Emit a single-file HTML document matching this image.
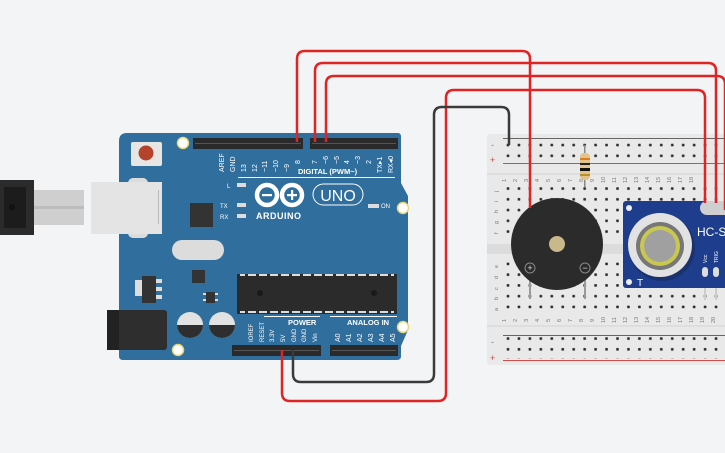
<!DOCTYPE html>
<html><head><meta charset="utf-8"><style>
html,body{margin:0;padding:0;background:#f3f4f6;}
svg{display:block;}
text{font-family:"Liberation Sans",sans-serif;}
</style></head><body>
<svg width="725" height="453" viewBox="0 0 725 453" xmlns="http://www.w3.org/2000/svg">
<rect width="725" height="453" fill="#f3f4f6"/>

<!-- USB cable -->
<rect x="0" y="180" width="34" height="55" fill="#2b2b2b"/>
<rect x="4" y="187" width="22" height="41" fill="#1c1c1c"/>
<circle cx="12" cy="207" r="3" fill="#111"/>
<rect x="34" y="190" width="50" height="35" fill="#cfcfcf"/>
<rect x="34" y="206" width="50" height="3" fill="#bdbdbd"/>

<!-- Arduino board -->
<path d="M127,133 L398,133 Q401,133 401,137 L401,183 L408,196 L408,330 L401,346 L401,356 Q401,360 397,360 L123,360 Q119,360 119,356 L119,141 Q119,133 127,133 Z" fill="#2f6e9d"/>
<!-- USB jack -->
<rect x="128" y="178" width="20" height="10" rx="5" fill="#dcdcdc"/>
<rect x="128" y="228" width="20" height="10" rx="5" fill="#dcdcdc"/>
<rect x="91" y="182" width="71" height="52" fill="#e4e4e4"/>
<rect x="158" y="190" width="1" height="34" fill="#bbb"/>
<!-- reset -->
<rect x="131" y="142" width="31" height="24" rx="2" fill="#e8e6e2"/>
<circle cx="146" cy="153" r="7.5" fill="#b5432c"/>
<!-- mounting holes -->
<g fill="#fff" stroke="#e8d67a" stroke-width="1.5">
<circle cx="183" cy="143" r="5.5"/><circle cx="403" cy="208" r="5.5"/><circle cx="403" cy="327" r="5.5"/><circle cx="178" cy="350" r="5.5"/>
</g>
<!-- headers -->
<g fill="#2a2a2a">
<rect x="193" y="138" width="110" height="11"/><rect x="310" y="138" width="88" height="11"/>
<rect x="232" y="345" width="89" height="11"/><rect x="330" y="345" width="68" height="11"/>
</g>
<g fill="#555">
<rect x="195" y="143" width="106" height="1"/><rect x="312" y="143" width="84" height="1"/>
<rect x="234" y="350" width="85" height="1"/><rect x="332" y="350" width="64" height="1"/>
</g>
<!-- pin labels top -->
<g fill="#fff" font-size="7" text-anchor="start">
<text transform="translate(224,172) rotate(-90)">AREF</text>
<text transform="translate(235,172) rotate(-90)">GND</text>
<text transform="translate(246,172) rotate(-90)">13</text>
<text transform="translate(257,172) rotate(-90)">12</text>
<text transform="translate(267,172) rotate(-90)">~11</text>
<text transform="translate(278,172) rotate(-90)">~10</text>
<text transform="translate(289,172) rotate(-90)">~9</text>
<text transform="translate(300,164) rotate(-90)">8</text>
<text transform="translate(317,164) rotate(-90)">7</text>
<text transform="translate(328,164) rotate(-90)">~6</text>
<text transform="translate(339,164) rotate(-90)">~5</text>
<text transform="translate(349,164) rotate(-90)">4</text>
<text transform="translate(360,164) rotate(-90)">~3</text>
<text transform="translate(371,164) rotate(-90)">2</text>
<text transform="translate(382,173) rotate(-90)">TX▸1</text>
<text transform="translate(393,173) rotate(-90)">RX◂0</text>
</g>
<text x="298" y="174" fill="#fff" font-size="7.5" font-weight="bold">DIGITAL (PWM~)</text>
<rect x="238" y="177" width="157" height="1" fill="#fff"/>
<!-- LEDs -->
<g fill="#ddd"><rect x="237" y="183" width="9" height="4"/><rect x="237" y="203" width="9" height="4"/><rect x="237" y="214" width="9" height="4"/><rect x="368" y="204" width="11" height="4"/></g>
<g fill="#fff" font-size="6"><text x="227" y="188">L</text><text x="220" y="208">TX</text><text x="220" y="219">RX</text><text x="381" y="208">ON</text></g>
<!-- logo -->
<g fill="none" stroke="#fff" stroke-width="4.5"><circle cx="267" cy="195" r="10"/><circle cx="292" cy="195" r="10"/></g>
<rect x="262" y="194" width="10" height="2.2" fill="#fff"/>
<rect x="287" y="194" width="10" height="2.2" fill="#fff"/><rect x="291" y="190" width="2.2" height="10" fill="#fff"/>
<text x="256" y="219" fill="#fff" font-size="9" font-weight="bold" letter-spacing="0.5">ARDUINO</text>
<rect x="313" y="184" width="50" height="21" rx="10.5" fill="none" stroke="#fff" stroke-width="1"/>
<text x="338" y="201" fill="#fff" font-size="16" text-anchor="middle">UNO</text>
<!-- ICs -->
<rect x="190" y="203" width="23" height="24" fill="#333"/>
<rect x="172" y="240" width="52" height="20" rx="10" fill="#dcdcdc"/>
<rect x="192" y="270" width="13" height="13" fill="#333"/>
<rect x="135" y="280" width="8" height="16" fill="#ddd"/>
<rect x="142" y="276" width="14" height="27" fill="#333"/>
<g fill="#ddd"><rect x="156" y="279" width="6" height="4"/><rect x="156" y="287" width="6" height="4"/><rect x="156" y="295" width="6" height="4"/></g>
<rect x="206" y="292" width="9" height="11" fill="#333"/>
<g fill="#ddd"><rect x="203" y="293" width="3" height="2"/><rect x="203" y="299" width="3" height="2"/><rect x="215" y="293" width="3" height="2"/><rect x="215" y="299" width="3" height="2"/></g>
<rect x="237" y="274" width="160" height="40" fill="#2b2b2b"/>
<g fill="#ddd">
<rect x="240" y="274" width="154" height="2"/><rect x="240" y="311" width="154" height="2"/>
</g>
<g fill="#2b2b2b">
<rect x="245" y="274" width="3" height="2"/><rect x="256" y="274" width="3" height="2"/><rect x="267" y="274" width="3" height="2"/><rect x="278" y="274" width="3" height="2"/><rect x="289" y="274" width="3" height="2"/><rect x="300" y="274" width="3" height="2"/><rect x="311" y="274" width="3" height="2"/><rect x="322" y="274" width="3" height="2"/><rect x="333" y="274" width="3" height="2"/><rect x="344" y="274" width="3" height="2"/><rect x="355" y="274" width="3" height="2"/><rect x="366" y="274" width="3" height="2"/><rect x="377" y="274" width="3" height="2"/><rect x="388" y="274" width="3" height="2"/>
<rect x="245" y="311" width="3" height="2"/><rect x="256" y="311" width="3" height="2"/><rect x="267" y="311" width="3" height="2"/><rect x="278" y="311" width="3" height="2"/><rect x="289" y="311" width="3" height="2"/><rect x="300" y="311" width="3" height="2"/><rect x="311" y="311" width="3" height="2"/><rect x="322" y="311" width="3" height="2"/><rect x="333" y="311" width="3" height="2"/><rect x="344" y="311" width="3" height="2"/><rect x="355" y="311" width="3" height="2"/><rect x="366" y="311" width="3" height="2"/><rect x="377" y="311" width="3" height="2"/><rect x="388" y="311" width="3" height="2"/>
</g>
<circle cx="260" cy="293" r="3" fill="#1a1a1a"/><circle cx="374" cy="293" r="3" fill="#1a1a1a"/>
<!-- power jack -->
<rect x="107" y="310" width="60" height="40" rx="3" fill="#2e2e2e"/>
<rect x="107" y="310" width="12" height="40" fill="#222"/>
<!-- capacitors -->
<g><circle cx="190" cy="325" r="13" fill="#e2e2e2"/><path d="M177,325 A13,13 0 0,0 203,325 Z" fill="#2e2e2e"/>
<circle cx="222" cy="325" r="13" fill="#e2e2e2"/><path d="M209,325 A13,13 0 0,0 235,325 Z" fill="#2e2e2e"/></g>
<!-- bottom labels -->
<text x="288" y="325" fill="#fff" font-size="7.5" font-weight="bold">POWER</text>
<text x="347" y="325" fill="#fff" font-size="7.5" font-weight="bold">ANALOG IN</text>
<rect x="264" y="316" width="56" height="1" fill="#fff"/><rect x="330" y="316" width="67" height="1" fill="#fff"/>
<g fill="#fff" font-size="6">
<text transform="translate(253,342) rotate(-90)">IOREF</text>
<text transform="translate(264,342) rotate(-90)">RESET</text>
<text transform="translate(274,342) rotate(-90)">3.3V</text>
<text transform="translate(285,342) rotate(-90)">5V</text>
<text transform="translate(296,342) rotate(-90)">GND</text>
<text transform="translate(306,342) rotate(-90)">GND</text>
<text transform="translate(317,342) rotate(-90)">Vin</text>
<text transform="translate(340,342) rotate(-90)" font-size="7">A0</text>
<text transform="translate(351,342) rotate(-90)" font-size="7">A1</text>
<text transform="translate(362,342) rotate(-90)" font-size="7">A2</text>
<text transform="translate(373,342) rotate(-90)" font-size="7">A3</text>
<text transform="translate(384,342) rotate(-90)" font-size="7">A4</text>
<text transform="translate(395,342) rotate(-90)" font-size="7">A5</text>
</g>

<!-- Breadboard -->
<rect x="487" y="134" width="245" height="231" rx="3" fill="#e9e9e9"/>
<rect x="487" y="244" width="245" height="10" fill="#dcdcdc"/>
<rect x="487" y="173" width="245" height="2" fill="#dedede"/>
<rect x="487" y="325" width="245" height="2" fill="#dedede"/>
<rect x="503" y="138" width="222" height="1" fill="#666"/>
<rect x="503" y="163" width="222" height="1" fill="#d24a4a"/>
<rect x="503" y="335" width="222" height="1" fill="#666"/>
<rect x="503" y="360" width="222" height="1" fill="#d24a4a"/>
<g font-size="9" fill="#777"><text x="491" y="148">-</text><text x="491" y="345">-</text></g>
<g font-size="9" fill="#d24a4a"><text x="490" y="163">+</text><text x="490" y="361">+</text></g>
<defs>
<pattern id="holes" x="502.5" y="0" width="10.95" height="10.75" patternUnits="userSpaceOnUse">
<rect x="4.2" y="4.0" width="2.6" height="2.6" rx="0.6" fill="#2a2a2a"/>
</pattern>
</defs>
<rect x="503" y="140" width="222" height="22" fill="url(#holes)"/>
<rect x="503" y="337" width="222" height="22" fill="url(#holes)"/>
<g>
<rect x="503" y="184" width="222" height="54" fill="url(#holes)" transform="translate(0,0.5)"/>
<rect x="503" y="260" width="222" height="54" fill="url(#holes)" transform="translate(0,0.6)"/>
</g>
<g font-size="5.5" fill="#777">
<text transform="translate(506,182) rotate(-90)">1</text><text transform="translate(517,182) rotate(-90)">2</text><text transform="translate(528,182) rotate(-90)">3</text><text transform="translate(539,182) rotate(-90)">4</text><text transform="translate(550,182) rotate(-90)">5</text><text transform="translate(561,182) rotate(-90)">6</text><text transform="translate(572,182) rotate(-90)">7</text><text transform="translate(583,182) rotate(-90)">8</text><text transform="translate(594,182) rotate(-90)">9</text><text transform="translate(605,183) rotate(-90)">10</text><text transform="translate(616,183) rotate(-90)">11</text><text transform="translate(627,183) rotate(-90)">12</text><text transform="translate(638,183) rotate(-90)">13</text><text transform="translate(649,183) rotate(-90)">14</text><text transform="translate(660,183) rotate(-90)">15</text><text transform="translate(671,183) rotate(-90)">16</text><text transform="translate(682,183) rotate(-90)">17</text><text transform="translate(693,183) rotate(-90)">18</text>
<text transform="translate(506,322) rotate(-90)">1</text><text transform="translate(517,322) rotate(-90)">2</text><text transform="translate(528,322) rotate(-90)">3</text><text transform="translate(539,322) rotate(-90)">4</text><text transform="translate(550,322) rotate(-90)">5</text><text transform="translate(561,322) rotate(-90)">6</text><text transform="translate(572,322) rotate(-90)">7</text><text transform="translate(583,322) rotate(-90)">8</text><text transform="translate(594,322) rotate(-90)">9</text><text transform="translate(605,323) rotate(-90)">10</text><text transform="translate(616,323) rotate(-90)">11</text><text transform="translate(627,323) rotate(-90)">12</text><text transform="translate(638,323) rotate(-90)">13</text><text transform="translate(649,323) rotate(-90)">14</text><text transform="translate(660,323) rotate(-90)">15</text><text transform="translate(671,323) rotate(-90)">16</text><text transform="translate(682,323) rotate(-90)">17</text><text transform="translate(693,323) rotate(-90)">18</text><text transform="translate(704,323) rotate(-90)">19</text><text transform="translate(715,323) rotate(-90)">20</text>
<text transform="translate(498,192) rotate(-90)">j</text><text transform="translate(498,202) rotate(-90)">i</text><text transform="translate(498,213) rotate(-90)">h</text><text transform="translate(498,224) rotate(-90)">g</text><text transform="translate(498,234) rotate(-90)">f</text>
<text transform="translate(498,268) rotate(-90)">e</text><text transform="translate(498,279) rotate(-90)">d</text><text transform="translate(498,290) rotate(-90)">c</text><text transform="translate(498,300) rotate(-90)">b</text><text transform="translate(498,311) rotate(-90)">a</text>
</g>
<!-- resistor -->
<rect x="584" y="145" width="1.5" height="42" fill="#888"/>
<rect x="580" y="153" width="10" height="27" rx="4" fill="#e2c48a"/>
<rect x="580" y="158" width="10" height="2" fill="#e07b20"/>
<rect x="580" y="163" width="10" height="2" fill="#222"/>
<rect x="580" y="168" width="10" height="3" fill="#111"/>
<rect x="580" y="174" width="10" height="2" fill="#b8902a"/>
<!-- buzzer -->
<rect x="529" y="270" width="2" height="29" fill="#999"/>
<rect x="584" y="270" width="2" height="29" fill="#999"/>
<circle cx="557" cy="244" r="46" fill="#2b2b2b"/>
<circle cx="557" cy="244" r="8" fill="#c8b88a"/>
<circle cx="530" cy="268" r="5" fill="none" stroke="#888" stroke-width="1"/>
<text x="530" y="271" fill="#ddd" font-size="9" text-anchor="middle">+</text>
<circle cx="585" cy="268" r="5" fill="none" stroke="#888" stroke-width="1"/>
<text x="585" y="271" fill="#ddd" font-size="9" text-anchor="middle">−</text>
<!-- HC-SR04 -->
<rect x="704" y="285" width="2" height="15" fill="#ccc"/><rect x="715" y="285" width="2" height="15" fill="#ccc"/>
<rect x="623" y="201" width="110" height="87" rx="3" fill="#1e3d8c"/>
<circle cx="629" cy="208" r="3" fill="#eee"/><circle cx="629" cy="282" r="3" fill="#eee"/>
<rect x="700" y="201" width="40" height="14" rx="7" fill="#cfcfcf"/>
<circle cx="662" cy="248" r="33" fill="#1a2c5c" opacity="0.6"/>
<circle cx="660" cy="245" r="32" fill="#e2e2e2"/>
<circle cx="660" cy="246" r="24" fill="#777"/>
<circle cx="660" cy="246" r="20" fill="#c8c84e"/>
<circle cx="660" cy="246" r="16" fill="#a0a0a0"/>
<text x="637" y="286" fill="#fff" font-size="10">T</text>
<text x="697" y="236" fill="#fff" font-size="12" font-family="Liberation Mono, monospace">HC-S</text>
<g fill="#fff" font-size="5"><text transform="translate(707,263) rotate(-90)">Vcc</text><text transform="translate(718,263) rotate(-90)">TRIG</text></g>
<rect x="702" y="267" width="6" height="10" rx="3" fill="#ddd"/><rect x="713" y="267" width="6" height="10" rx="3" fill="#ddd"/>

<!-- Wires -->
<g fill="none" stroke-width="2.5" stroke-linejoin="round">
<path d="M297,142 L297,59 Q297,51 305,51 L522,51 Q530,51 530,59 L530,208" stroke="#e02424"/>
<path d="M315,142 L315,71 Q315,63 323,63 L708,63 Q716,63 716,71 L716,203" stroke="#e02424"/>
<path d="M326,142 L326,84 Q326,76 334,76 L717,76 Q725,76 725,84 L725,210" stroke="#e02424"/>
<path d="M282,350 L282,393 Q282,401 290,401 L438,401 Q446,401 446,393 L446,98 Q446,90 454,90 L697,90 Q705,90 705,98 L705,203" stroke="#e02424"/>
<path d="M293,350 L293,374 Q293,382 301,382 L426,382 Q434,382 434,374 L434,115 Q434,107 442,107 L501,107 Q509,107 509,115 L509,145" stroke="#3a3a3a"/>
</g>
</svg>
</body></html>
